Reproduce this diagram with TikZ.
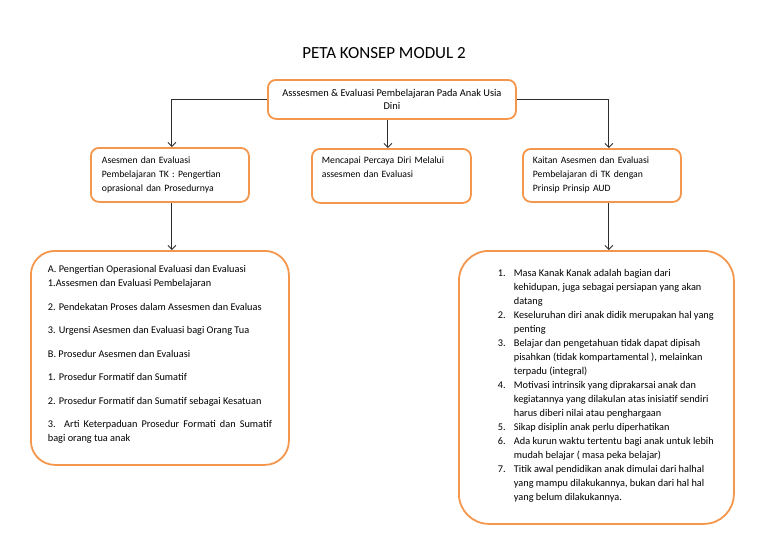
\documentclass[tikz,border=0pt]{standalone}
\usepackage{fontspec}
\setmainfont{Carlito}
\usetikzlibrary{arrows.meta,positioning}
\definecolor{oranye}{RGB}{244,151,76}
\definecolor{garis}{RGB}{45,45,45}

\begin{document}
\begin{tikzpicture}
     [
     x=1pt, y=-1pt,
     every node/.style={font=\fontsize{10.3}{14}\selectfont},
     kotak/.style={draw=oranye, line width=1.8pt, fill=white, rounded corners=8pt, anchor=north west, inner ysep=0pt, align=left},
     kecil/.style={kotak, font=\fontsize{9.7}{14}\selectfont},
     panah/.style={draw=garis, line width=0.9pt, -{Straight Barb[length=4pt,width=8pt]}}
     ]
     \useasboundingbox (0,0) rectangle (768,543);
     \node[font=\fontsize{17}{20}\selectfont] (judul) at (384,53) {PETA KONSEP MODUL 2};
     \node[kotak, minimum width=248pt, minimum height=39pt, align=center, font=\fontsize{10.4}{13.5}\selectfont] (pusat) at (267,79)
          {Asssesmen \& Evaluasi Pembelajaran Pada Anak Usia\\Dini};
     \node[kecil, text width=136pt, inner xsep=11pt, minimum height=54pt] (kiri) at (90,147)
          {Asesmen dan Evaluasi\\Pembelajaran TK : Pengertian\\oprasional dan Prosedurnya};
     \node[kecil, text width=139pt, inner xsep=10pt, minimum height=54pt] (tengah) at (311,148)
          {Mencapai Percaya Diri Melalui\\assesmen dan Evaluasi\\\strut};
     \node[kecil, text width=138pt, inner xsep=10pt, minimum height=53pt] (kanan) at (522,148)
          {Kaitan Asesmen dan Evaluasi\\Pembelajaran di TK dengan\\Prinsip Prinsip AUD};
     \node[kotak, rounded corners=24pt, inner xsep=0pt, minimum width=258pt, minimum height=214pt] (rinciankiri) at (30,250)
          {\begin{tabular}{@{}l@{}}
          A. Pengertian Operasional Evaluasi dan Evaluasi\\
          1.Assesmen dan Evaluasi Pembelajaran\\[9.5pt]
          2. Pendekatan Proses dalam Assesmen dan Evaluas\\[9.5pt]
          3. Urgensi Asesmen dan Evaluasi bagi Orang Tua\\[9.5pt]
          B. Prosedur Asesmen dan Evaluasi\\[9.5pt]
          1. Prosedur Formatif dan Sumatif\\[9.5pt]
          2. Prosedur Formatif dan Sumatif sebagai Kesatuan\\[9.5pt]
          \makebox[224pt][s]{3. Arti Keterpaduan Prosedur Formati dan Sumatif}\\
          bagi orang tua anak\\[7pt]
          \end{tabular}};
     \node[kotak, rounded corners=30pt, inner xsep=0pt, minimum width=275pt, minimum height=273pt] (rinciankanan) at (458,250)
          {\begin{tabular}{@{\hspace{19pt}}p{16pt}@{}p{200pt}@{}}
          1. & Masa Kanak Kanak adalah bagian dari\\
             & kehidupan, juga sebagai persiapan yang akan\\
             & datang\\
          2. & Keseluruhan diri anak didik merupakan hal yang\\
             & penting\\
          3. & Belajar dan pengetahuan tidak dapat dipisah\\
             & pisahkan (tidak kompartamental ), melainkan\\
             & terpadu (integral)\\
          4. & Motivasi intrinsik yang diprakarsai anak dan\\
             & kegiatannya yang dilakulan atas inisiatif sendiri\\
             & harus diberi nilai atau penghargaan\\
          5. & Sikap disiplin anak perlu diperhatikan\\
          6. & Ada kurun waktu tertentu bagi anak untuk lebih\\
             & mudah belajar ( masa peka belajar)\\
          7. & Titik awal pendidikan anak dimulai dari halhal\\
             & yang mampu dilakukannya, bukan dari hal hal\\
             & yang belum dilakukannya.\\[4pt]
          \end{tabular}};
     \draw[panah] (pusat.west) -| ([xshift=2pt]kiri.north);
     \draw[panah] ([xshift=-4pt]pusat.south) -- ([xshift=-4pt]pusat.south |- tengah.north);
     \draw[panah] (pusat.east) -| ([xshift=7pt]kanan.north);
     \draw[panah] ([xshift=2pt]kiri.south) -- ([xshift=2pt]kiri.south |- rinciankiri.north);
     \draw[panah] ([xshift=7pt]kanan.south) -- ([xshift=7pt]kanan.south |- rinciankanan.north);
\end{tikzpicture}
\end{document}
